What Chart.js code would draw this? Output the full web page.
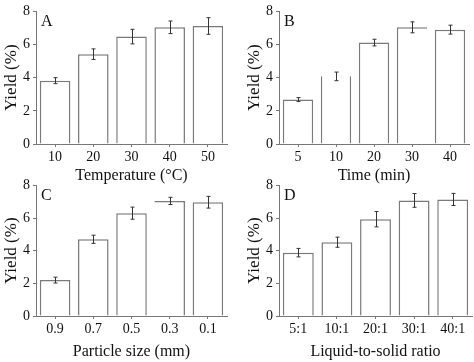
<!DOCTYPE html>
<html>
<head>
<meta charset="utf-8">
<script src="https://cdn.jsdelivr.net/npm/chart.js@4.4.1/dist/chart.umd.min.js"></script>
<style>
  body { margin: 0; background: #fff; }
  #wrap { position: relative; width: 474px; height: 362px; overflow: hidden; }
  canvas { position: absolute; }
</style>
</head>
<body>
<div id="wrap">
  <canvas id="panelA" width="237" height="185" style="left:0;top:0"></canvas>
  <canvas id="panelB" width="231" height="185" style="left:243px;top:0"></canvas>
  <canvas id="panelC" width="237" height="187" style="left:0;top:174px"></canvas>
  <canvas id="panelD" width="231" height="187" style="left:243px;top:174px"></canvas>
</div>
<script>
// datos
const tempLabels = ['10', '20', '30', '40', '50'];
const tempYield = [3.82, 5.42, 6.48, 7.04, 7.12];
const tempErr = [0.18, 0.32, 0.44, 0.38, 0.5];

const timeLabels = ['5', '10', '20', '30', '40'];
const timeYield = [2.68, 4.08, 6.12, 7.04, 6.9];
const timeErr = [0.12, 0.26, 0.2, 0.33, 0.27];

const sizeLabels = ['0.9', '0.7', '0.5', '0.3', '0.1'];
const sizeYield = [2.2, 4.7, 6.3, 7.05, 6.97];
const sizeErr = [0.18, 0.25, 0.37, 0.22, 0.36];

const ratioLabels = ['5:1', '10:1', '20:1', '30:1', '40:1'];
const ratioYield = [3.88, 4.52, 5.93, 7.08, 7.14];
const ratioErr = [0.26, 0.31, 0.47, 0.42, 0.37];

const yTicks = [0, 2, 4, 6, 8];

const serif = "'Liberation Serif', 'DejaVu Serif', serif";
const axisGray = '#777';

// barras de error con las escalas de Chart.js
const errorBars = {
  id: 'errorBars',
  afterDatasetsDraw(chart, args, opts) {
    const ctx = chart.ctx;
    const yScale = chart.scales.y;
    const meta = chart.getDatasetMeta(0);
    const values = chart.data.datasets[0].data;
    ctx.save();
    ctx.strokeStyle = '#333';
    ctx.lineWidth = 1;
    meta.data.forEach((bar, i) => {
      const e = opts.errors[i];
      const yTop = yScale.getPixelForValue(values[i] + e);
      const yBot = yScale.getPixelForValue(values[i] - e);
      const x = Math.round(bar.x) + 0.5;
      ctx.beginPath();
      ctx.moveTo(x, yTop); ctx.lineTo(x, yBot);
      ctx.moveTo(x - 2, yTop); ctx.lineTo(x + 2, yTop);
      ctx.moveTo(x - 2, yBot); ctx.lineTo(x + 2, yBot);
      ctx.stroke();
    });
    ctx.restore();
  }
};

// letra del panel
const panelLetter = {
  id: 'panelLetter',
  afterDraw(chart, args, opts) {
    const ctx = chart.ctx;
    ctx.save();
    ctx.font = '16px ' + serif;
    ctx.fillStyle = '#111';
    ctx.textBaseline = 'middle';
    ctx.fillText(opts.text, chart.chartArea.left + 5, chart.chartArea.top + 10);
    ctx.restore();
  }
};

function makePanel(id, labels, values, errors, letter, xTitle, xHeight, rightPad, edges) {
  const w = 1.5;
  new Chart(document.getElementById(id), {
    type: 'bar',
    data: {
      labels: labels,
      datasets: [{
        data: values,
        backgroundColor: '#fff',
        borderColor: '#7a7a7a',
        borderSkipped: false,
        borderWidth: c => {
          const e = (edges && edges[c.dataIndex]) || {};
          return {
            top: e.top === 0 ? 0 : w,
            left: e.left === 0 ? 0 : w,
            right: e.right === 0 ? 0 : w,
            bottom: 0
          };
        },
        barPercentage: 0.8,
        categoryPercentage: 1.0
      }]
    },
    options: {
      responsive: false,
      animation: false,
      devicePixelRatio: 1,
      layout: { padding: { top: 11, right: rightPad, left: 0, bottom: 0 } },
      plugins: {
        legend: { display: false },
        tooltip: { enabled: false },
        errorBars: { errors: errors },
        panelLetter: { text: letter }
      },
      scales: {
        x: {
          grid: { offset: false, drawOnChartArea: false, tickLength: 3, color: axisGray },
          border: { color: axisGray, width: 1 },
          ticks: { font: { family: serif, size: 14 }, color: '#111', padding: 2, maxRotation: 0 },
          title: {
            display: true, text: xTitle, color: '#111',
            font: { family: serif, size: 16, lineHeight: 1.2 },
            padding: { top: 0, bottom: 0 }
          },
          afterFit: s => { s.height = xHeight; }
        },
        y: {
          min: 0, max: 8,
          grid: { drawOnChartArea: false, tickLength: 3, color: axisGray },
          border: { color: axisGray, width: 1 },
          ticks: {
            stepSize: 1, padding: 3, color: '#111',
            font: { family: serif, size: 14 },
            callback: v => yTicks.includes(v) ? String(v) : ''
          },
          title: {
            display: true, text: 'Yield (%)', color: '#111',
            font: { family: serif, size: 17, lineHeight: 1.2 },
            padding: { top: 1, bottom: 0 }
          },
          afterFit: s => { s.width = 36; }
        }
      }
    },
    plugins: [errorBars, panelLetter]
  });
}

makePanel('panelA', tempLabels, tempYield, tempErr, 'A', 'Temperature (°C)', 41, 10);
makePanel('panelB', timeLabels, timeYield, timeErr, 'B', 'Time (min)', 41, 5,
  { 1: { top: 0 }, 3: { right: 0 } });
makePanel('panelC', sizeLabels, sizeYield, sizeErr, 'C', 'Particle size (mm)', 45, 10,
  { 3: { left: 0 } });
makePanel('panelD', ratioLabels, ratioYield, ratioErr, 'D', 'Liquid-to-solid ratio', 45, 2);
</script>
</body>
</html>
